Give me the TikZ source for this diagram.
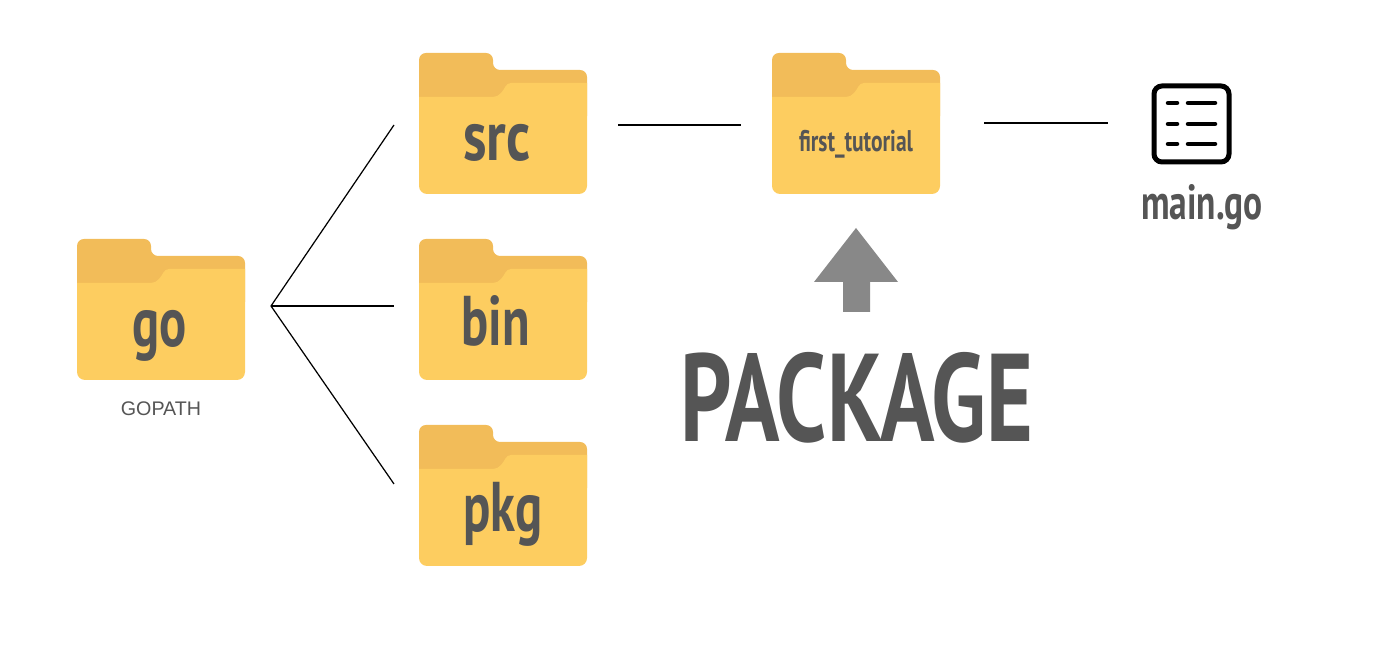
\documentclass[tikz,border=0pt]{standalone}
\usepackage{fontspec}
\setmainfont{PT Sans}
\newfontfamily\plainfont{Liberation Sans}
\definecolor{folderfront}{HTML}{FDCD60}
\definecolor{folderback}{HTML}{F2BC59}
\definecolor{labelgray}{HTML}{555555}
\definecolor{arrowgray}{HTML}{888888}
\tikzset{
  folder/.pic={
    \fill[folderback,rounded corners=.07cm] (0,0)--(74,0)--(74,17)--(168,17)--(168,70)--(0,70)--cycle;
    \fill[folderfront] (0,44)--(74,44) to[out=0,in=225] (82,40) to[out=45,in=180] (92,30)--(168,30)
      [rounded corners=.08cm] --(168,141)--(0,141) [sharp corners] --cycle;
  },
  bigname/.style={text=labelgray,anchor=base,inner sep=0,transform shape,xscale=.72,font=\bfseries\fontsize{20}{20}\selectfont},
  wire/.style={line width=.35pt,black},
}
\begin{document}
\begin{tikzpicture}[x=.01cm,y=-.01cm]
  \useasboundingbox (0,0) rectangle (1400,662);
  % folders
  \pic at (77,239) {folder};
  \pic at (419,53) {folder};
  \pic at (419,239) {folder};
  \pic at (419,425) {folder};
  \pic at (772,53) {folder};
  \node[bigname] (go) at (160,347) {go};
  \node[bigname,xscale=1.1] (src) at (497,161) {src};
  \node[bigname] (bin) at (496,346) {bin};
  \node[bigname] (pkg) at (503,532) {pkg};
  \node[bigname,font=\bfseries\fontsize{8.5}{8.5}\selectfont] (tutorial) at (856,152) {first\_tutorial};
  \node[bigname,font=\bfseries\fontsize{14}{14}\selectfont] (main) at (1202,220) {main.go};
  \node[bigname,font=\bfseries\fontsize{35.5}{36}\selectfont] (package) at (857,442) {PACKAGE};
  \node[anchor=base,inner sep=0,text=labelgray,font=\plainfont\fontsize{5.6}{6}\selectfont] (gopath) at (161,416) {GOPATH};
  % connectors
  \coordinate (A) at (271,306); \coordinate (B) at (394,125);
  \coordinate (C) at (394,306); \coordinate (D) at (394,484);
  \coordinate (E) at (618,125); \coordinate (F) at (741,125);
  \coordinate (G) at (984,123); \coordinate (H) at (1108,123);
  \draw[wire] (B)--(A)--(D);
  \draw[wire] (A)--(C);
  \draw[wire] (E)--(F);
  \draw[wire] (G)--(H);
  % arrow
  \fill[arrowgray] (856,228)--(898,282)--(870,282)--(870,312)--(843,312)--(843,282)--(814,282)--cycle;
  % file icon
  \draw[line width=.05cm,rounded corners=.08cm] (1154,86) rectangle (1229,162);
  \draw[line width=.045cm,line cap=round] (1168,103)--(1177,103) (1188,103)--(1215,103);
  \draw[line width=.045cm,line cap=round] (1168,124)--(1177,124) (1188,124)--(1215,124);
  \draw[line width=.045cm,line cap=round] (1168,144)--(1177,144) (1188,144)--(1215,144);
\end{tikzpicture}
\end{document}
